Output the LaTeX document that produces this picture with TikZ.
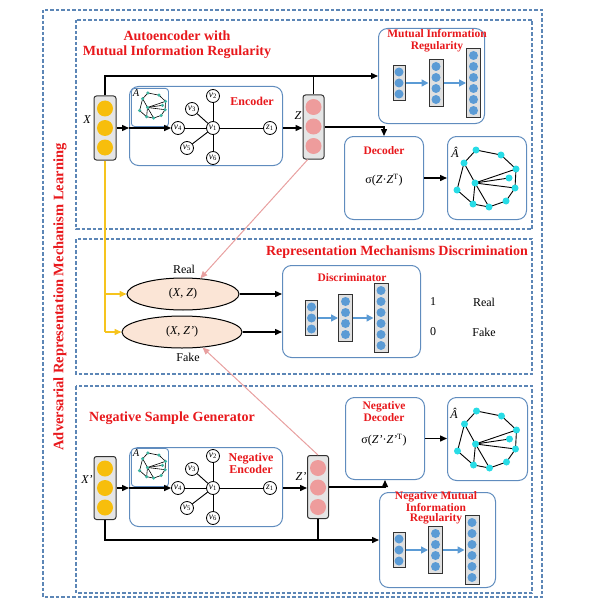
\documentclass[tikz,border=0pt]{standalone}
\usepackage{fontspec}
\setmainfont{Liberation Serif}
\usetikzlibrary{arrows.meta,shapes.geometric,calc}
\definecolor{dashblue}{RGB}{92,134,182}
\definecolor{boxblue}{RGB}{96,140,190}
\definecolor{tred}{RGB}{232,24,28}
\definecolor{cyel}{RGB}{247,190,12}
\definecolor{lyel}{RGB}{246,196,30}
\definecolor{cpink}{RGB}{238,156,156}
\definecolor{lpink}{RGB}{232,160,160}
\definecolor{efill}{RGB}{251,229,214}
\definecolor{nnblue}{RGB}{91,155,213}
\definecolor{gcyan}{RGB}{40,220,230}
\definecolor{gteal}{RGB}{60,180,160}

\newcommand\encg[2]{%
  \node[vn] (#1v1) at (213,#2) {\textit{v}\textsubscript{1}};
  \node[vn] (#1v2) at (213,#2-32) {\textit{v}\textsubscript{2}};
  \node[vn] (#1v3) at (192,#2-19) {\textit{v}\textsubscript{3}};
  \node[vn] (#1v4) at (178,#2) {\textit{v}\textsubscript{4}};
  \node[vn] (#1v5) at (187,#2+20) {\textit{v}\textsubscript{5}};
  \node[vn] (#1v6) at (213,#2+30) {\textit{v}\textsubscript{6}};
  \node[vn] (#1z1) at (270,#2) {\textit{z}\textsubscript{1}};
  \draw[eline] (#1v1) -- (#1v2);
  \draw[eline] (#1v1) -- (#1v3);
  \draw[eline] (#1v1) -- (#1v4);
  \draw[eline] (#1v1) -- (#1v5);
  \draw[eline] (#1v1) -- (#1v6);
  \draw[eline] (#1v1) -- (#1z1);
}

% prefix, cx, cy, scale, nodesize, colour, linewidth
\newcommand\graphA[7]{%
  \foreach \i/\gx/\gy in {0/0/0,1/1/-33,2/26/-28,3/41/-14,4/34/-5,5/40/5,6/31/18,7/14/24,8/-2/21,9/-18/7,10/-11/-20}{
    \coordinate (#1c\i) at ({#2+#4*\gx},{#3+#4*\gy});
  }
  \draw[line width=#7] (#1c1)--(#1c2)--(#1c3)--(#1c5)--(#1c6)--(#1c7)--(#1c8)--(#1c9)--(#1c10)--cycle;
  \foreach \j in {10,3,4,5,7,8} {\draw[line width=#7] (#1c0)--(#1c\j);}
  \foreach \i in {0,...,10} {\node[circle, fill=#6, inner sep=0pt, minimum size=#5] (#1n\i) at (#1c\i) {};}
}

% prefix, x1, x2, x3, yc
\newcommand\nnet[5]{%
  \node[nncol, minimum width=12pt, minimum height=35pt] (#1a) at (#2,#5) {};
  \foreach \k in {1,2,3} {\node[nnc] (#1a\k) at (#2,{#5+11*(\k-2)}) {};}
  \node[nncol, minimum width=14pt, minimum height=47pt] (#1b) at (#3,#5) {};
  \foreach \k in {1,...,4} {\node[nnc] (#1b\k) at (#3,{#5+11*(\k-2.5)}) {};}
  \node[nncol, minimum width=14pt, minimum height=69pt] (#1c) at (#4,#5) {};
  \foreach \k in {1,...,6} {\node[nnc] (#1c\k) at (#4,{#5+11*(\k-3.5)}) {};}
  \draw[barr] (#1a) -- (#1b);
  \draw[barr] (#1b) -- (#1c);
}

\begin{document}
\begin{tikzpicture}[x=1pt,y=-1pt,
  panel/.style={draw=dashblue, line width=1.4pt, dash pattern=on 3.5pt off 2pt},
  bbox/.style={draw=boxblue, line width=1pt, rounded corners=9pt, fill=white, anchor=north west, inner sep=0pt},
  abox/.style={draw=boxblue, line width=0.9pt, rounded corners=3pt, fill=white, anchor=north west, inner sep=0pt},
  col/.style={draw=black!80, fill=black!10, rounded corners=2.5pt, line width=1pt, inner sep=0pt},
  ycirc/.style={circle, fill=cyel, minimum size=16pt, inner sep=0pt},
  pcirc/.style={circle, fill=cpink, minimum size=16pt, inner sep=0pt},
  nncol/.style={draw=black!80, fill=black!12, line width=1pt, inner sep=0pt},
  nnc/.style={circle, fill=nnblue, minimum size=9pt, inner sep=0pt},
  arr/.style={-{Triangle[length=7pt,width=6pt]}, line width=1.4pt},
  plain/.style={line width=1.4pt},
  barr/.style={-{Triangle[length=7pt,width=7pt]}, line width=1.5pt, draw=nnblue, color=nnblue},
  yarr/.style={-{Triangle[length=7pt,width=6pt]}, line width=1.5pt, draw=lyel, color=lyel},
  parr/.style={-{Triangle[length=7pt,width=6pt]}, line width=1pt, draw=lpink, color=lpink},
  eline/.style={line width=0.9pt},
  vn/.style={circle, draw, line width=0.8pt, fill=white, inner sep=0pt, minimum size=13pt, font=\fontsize{9.5}{9.5}\selectfont},
  title/.style={text=tred, font=\bfseries\fontsize{14}{15}\selectfont, align=center, inner sep=0pt},
  stitle/.style={text=tred, font=\bfseries\fontsize{11.5}{12}\selectfont, align=center, inner sep=0pt},
  lbl/.style={font=\fontsize{12}{13}\selectfont, inner sep=0pt},
  ilbl/.style={font=\itshape\fontsize{12}{13}\selectfont, inner sep=0pt},
  ell/.style={ellipse, draw, line width=1pt, fill=efill, inner sep=0pt, font=\fontsize{12}{13}\selectfont}
]
\path[use as bounding box] (0,0) rectangle (590,615);

% ---------- panels ----------
\draw[panel] (43,10) rectangle (542,597);
\draw[panel] (76,20) rectangle (532,229);
\draw[panel] (76,239) rectangle (532,374);
\draw[panel] (76,386) rectangle (532,593);
\node[title, rotate=90, font=\bfseries\fontsize{14.5}{15}\selectfont] (side) at (60,297) {Adversarial Representation Mechanism Learning};

% ---------- panel 1 ----------
\node[title] (t1) at (177,44.5) {Autoencoder with\\Mutual Information Regularity};

\node[col, minimum width=22pt, minimum height=64pt] (X) at (105,128) {};
\foreach \k/\yy in {1/108.5,2/128,3/147.5} {\node[ycirc] (Xc\k) at (105,\yy) {};}
\node[ilbl] (Xl) at (87,120) {X};

\node[bbox, minimum width=153pt, minimum height=79pt] (enc) at (129,86) {};
\node[abox, minimum width=37pt, minimum height=38pt] (abox1) at (131,88) {};
\graphA{ga1}{147.5}{107.5}{0.44}{3.5pt}{gteal}{0.6pt}
\node[ilbl, font=\itshape\fontsize{10.5}{11}\selectfont] (al1) at (136,93) {A};
\node[stitle, font=\bfseries\fontsize{12}{13}\selectfont] (enct) at (252,101) {Encoder};
\encg{e}{128}

\node[col, minimum width=21pt, minimum height=64pt] (Z) at (313.5,127) {};
\foreach \k/\yy in {1/107,2/126.5,3/146} {\node[pcirc] (Zc\k) at (313.5,\yy) {};}
\node[ilbl] (Zl) at (298,116) {Z};

\node[bbox, minimum width=106pt, minimum height=95pt] (mi) at (378,28) {};
\node[stitle] (mit) at (437,40.5) {Mutual Information\\Regularity};
\nnet{mn}{399}{436}{473.5}{83}

\node[bbox, minimum width=79pt, minimum height=83pt] (dec) at (344,136) {};
\node[stitle] (dect) at (384,151) {Decoder};
\node[lbl] (decf) at (384,180) {σ(\textit{Z}·\textit{Z}\textsuperscript{T})};

\node[bbox, minimum width=79pt, minimum height=83pt] (ah) at (447,136) {};
\node[ilbl] (ahl) at (455,152) {\^A};
\graphA{gb1}{475}{183}{1}{7pt}{gcyan}{0.9pt}

% connectors panel 1
\draw[arr] (X.east |- ev4) -- (enc.west |- ev4);
\draw[arr] (enc.west |- ev4) -- (ev4);
\draw[arr] (enc.east |- ev1) -- (Z.west |- ev1);
\draw[arr] (X.north) |- (mi.west);
\draw[plain] (Z.north) -- (Z.north |- mi.west);
\draw[arr] (Z.east) -| (dec.north);
\draw[arr] (dec.east) -- (dec.east -| ah.west);

% ---------- panel 2 ----------
\node[title] (t2) at (397,252) {Representation Mechanisms Discrimination};
\node[ell, minimum width=112pt, minimum height=32pt] (e1) at (183,294) {(\textit{X}, \textit{Z})};
\node[ell, minimum width=120pt, minimum height=32pt] (e2) at (182,332) {(\textit{X}, \textit{Z'})};
\node[lbl] (real1) at (184,269) {Real};
\node[lbl] (fake1) at (188,357) {Fake};

\node[bbox, minimum width=138pt, minimum height=92pt] (disc) at (282,265) {};
\node[stitle] (disct) at (352,278) {Discriminator};
\nnet{dn}{311.5}{345.5}{381}{318}
\node[lbl] (one) at (433,302) {1};
\node[lbl] (zero) at (433,332) {0};
\node[lbl] (real2) at (484,302) {Real};
\node[lbl] (fake2) at (484,332) {Fake};

\draw[arr] (e1.east) -- (e1.east -| disc.west);
\draw[arr] (e2.east) -- (e2.east -| disc.west);

\draw[line width=1.5pt, draw=lyel] (X.south) -- (X.south |- e2.west);
\draw[yarr] (X.south |- e1.west) -- (e1.west);
\draw[yarr] (X.south |- e2.west) -- (e2.west);

% ---------- panel 3 ----------
\node[title, anchor=west] (t3) at (89,418) {Negative Sample Generator};

\node[col, minimum width=22pt, minimum height=63pt] (Xp) at (105,488) {};
\foreach \k/\yy in {1/468.5,2/488,3/507.5} {\node[ycirc] (Xpc\k) at (105,\yy) {};}
\node[ilbl] (Xpl) at (87,480) {X'};

\node[bbox, minimum width=153pt, minimum height=79pt] (nenc) at (129,447) {};
\node[abox, minimum width=37pt, minimum height=38pt] (abox2) at (131,448) {};
\graphA{ga2}{147.5}{467.5}{0.44}{3.5pt}{gteal}{0.6pt}
\node[ilbl, font=\itshape\fontsize{10.5}{11}\selectfont] (al2) at (136,453) {A};
\node[stitle, font=\bfseries\fontsize{12}{12}\selectfont] (nenct) at (251,463) {Negative\\Encoder};
\encg{n}{488}

\node[col, minimum width=21pt, minimum height=63pt] (Zp) at (318,487) {};
\foreach \k/\yy in {1/468,2/487.5,3/507} {\node[pcirc] (Zpc\k) at (318,\yy) {};}
\node[ilbl] (Zpl) at (301,477) {Z'};

\node[bbox, minimum width=79pt, minimum height=82pt] (ndec) at (345,397) {};
\node[stitle] (ndect) at (384,412) {Negative\\Decoder};
\node[lbl] (ndecf) at (384,440) {σ(\textit{Z'}·\textit{Z'}\textsuperscript{T})};

\node[bbox, minimum width=80pt, minimum height=83pt] (ahp) at (447,397) {};
\node[ilbl] (ahpl) at (454,413) {\^A};
\graphA{gb2}{475.5}{444}{1}{7pt}{gcyan}{0.9pt}

\node[bbox, minimum width=116pt, minimum height=95pt] (nmi) at (379,492) {};
\node[stitle, font=\bfseries\fontsize{11.5}{10.5}\selectfont] (nmit) at (436,508) {Negative Mutual\\Information\\Regularity};
\nnet{nn}{399}{435.5}{472}{550}

% connectors panel 3
\draw[arr] (Xp.east |- nv4) -- (nenc.west |- nv4);
\draw[arr] (nenc.west |- nv4) -- (nv4);
\draw[arr] (nenc.east |- nv1) -- (Zp.west |- nv1);
\draw[arr] (Xp.south) |- (nmi.west);
\draw[plain] (Zp.south) -- (Zp.south |- nmi.west);
\draw[arr] (Zp.east) -| (ndec.south);
\draw[arr] (ndec.east) -- (ndec.east -| ahp.west);

% pink connectors
\draw[parr] (Z.-100) -- (e1.42);
\draw[parr] (Zp.north) -- (e2.-37);
\end{tikzpicture}
\end{document}
